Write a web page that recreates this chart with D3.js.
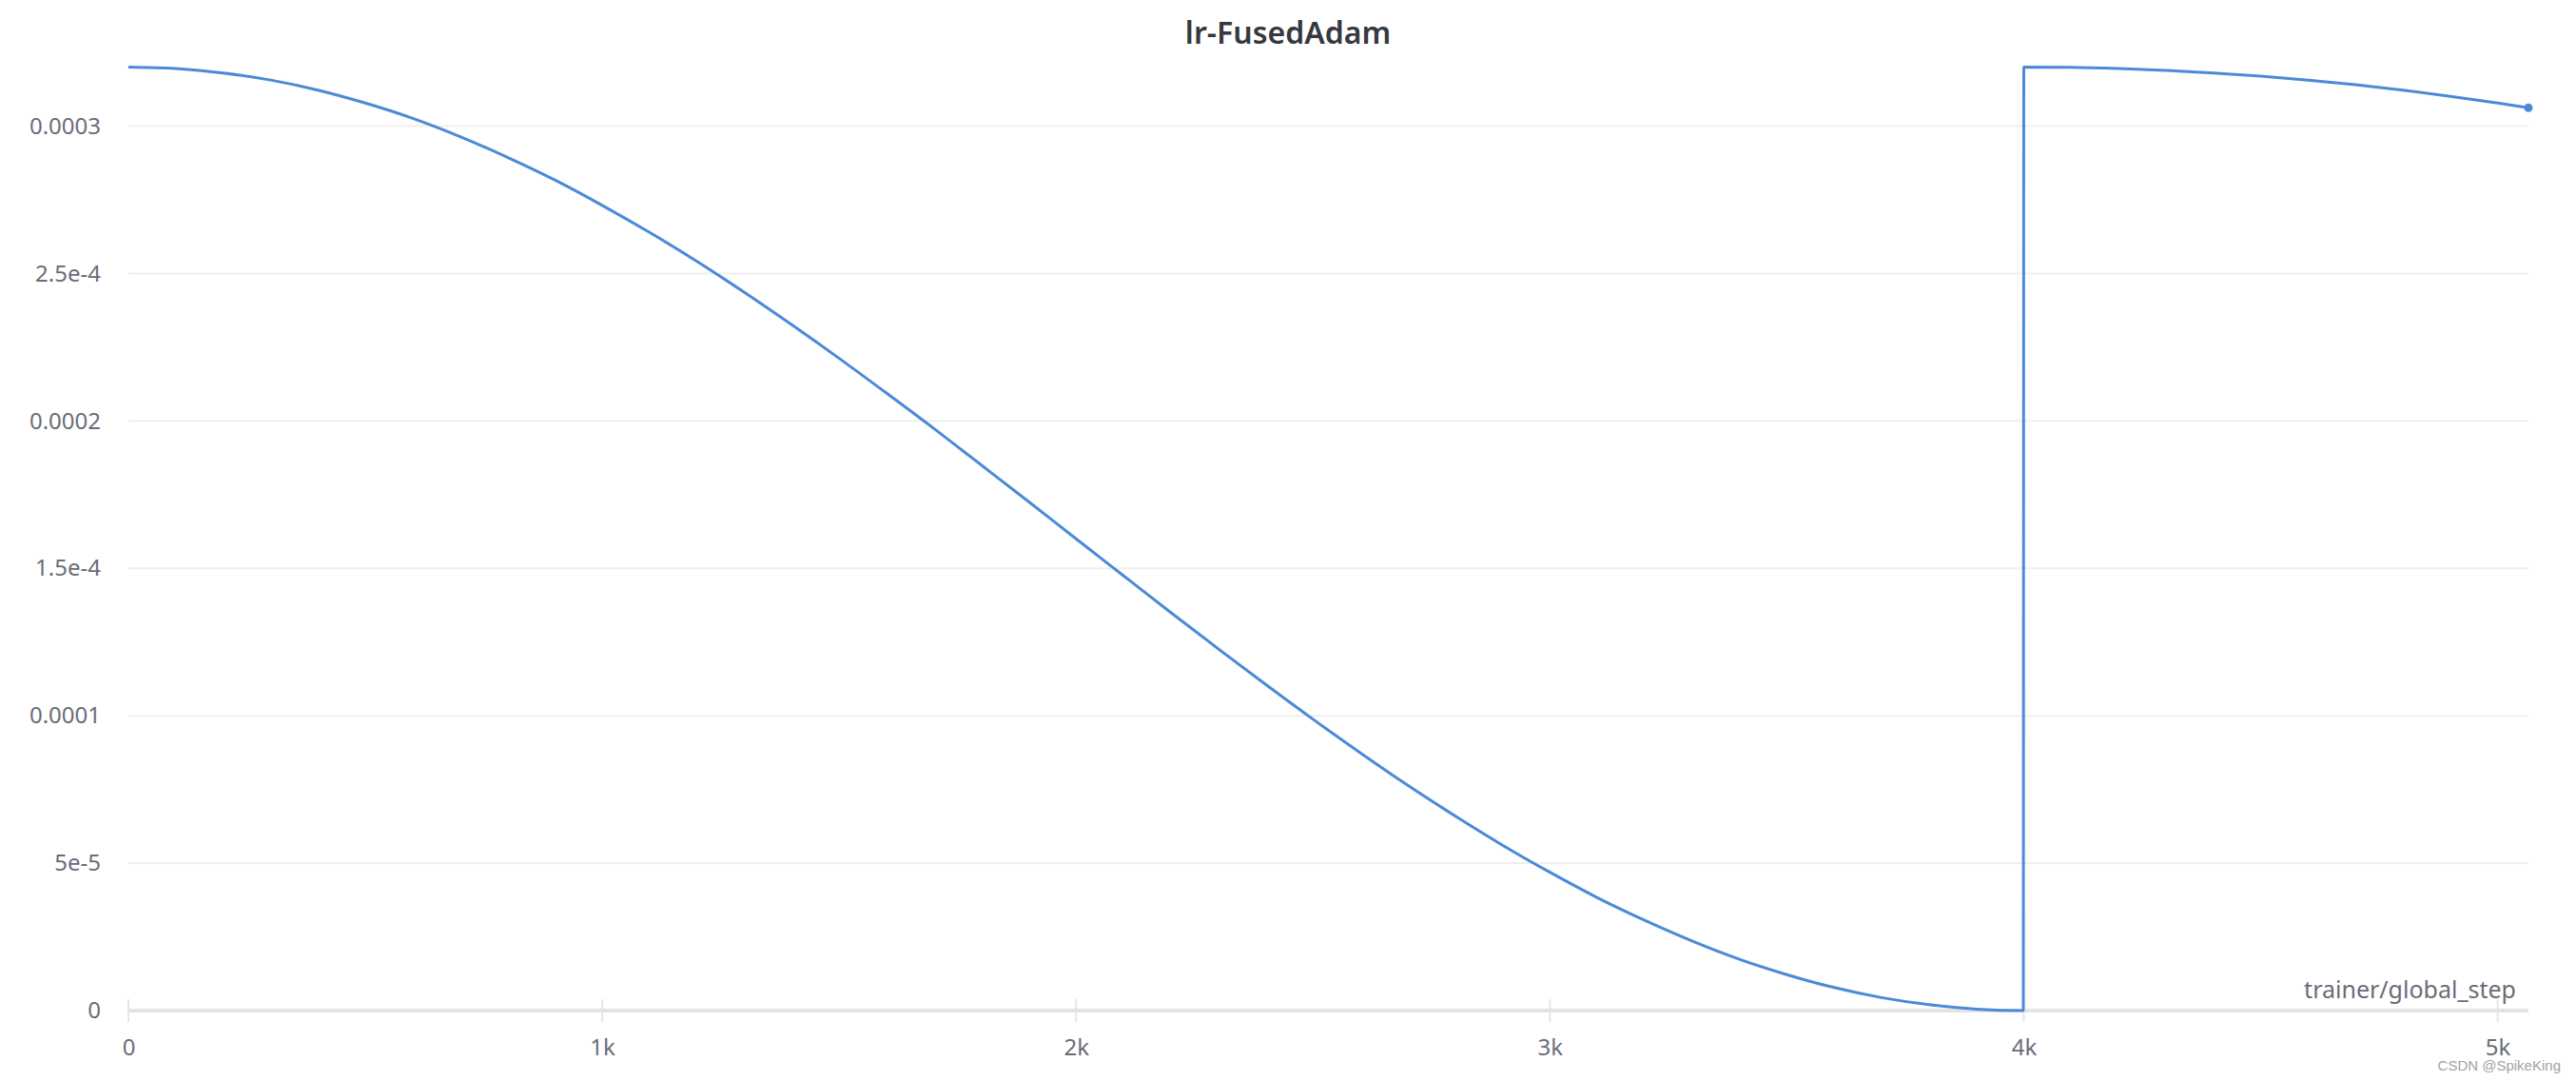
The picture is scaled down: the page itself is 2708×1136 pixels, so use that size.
<!DOCTYPE html>
<html>
<head>
<meta charset="utf-8">
<script src="https://cdn.jsdelivr.net/npm/d3@7"></script>
<style>
  html, body { margin: 0; padding: 0; background: #ffffff; }
  svg { display: block; }
</style>
</head>
<body>
<svg id="chart" width="2708" height="1136"></svg>
<script>
// ---- data ----
const chartTitle = "lr-FusedAdam";
const xAxisLabel = "trainer/global_step";
const watermark = "CSDN @SpikeKing";

const xTickValues = [0, 1000, 2000, 3000, 4000, 5000];
const xTickLabels = ["0", "1k", "2k", "3k", "4k", "5k"];
const yTickValues = [0, 0.00005, 0.0001, 0.00015, 0.0002, 0.00025, 0.0003];
const yTickLabels = ["0", "5e-5", "0.0001", "1.5e-4", "0.0002", "2.5e-4", "0.0003"];

const steps = [
  0, 100, 200, 300, 400, 500, 600, 700, 800, 900,
  1000, 1100, 1200, 1300, 1400, 1500, 1600, 1700, 1800, 1900,
  2000, 2100, 2200, 2300, 2400, 2500, 2600, 2700, 2800, 2900,
  3000, 3100, 3200, 3300, 3400, 3500, 3600, 3700, 3800, 3900,
  3999, 4000, 4100, 4200, 4300, 4400, 4500, 4600, 4700, 4800,
  4900, 5000, 5065
];
const lrValues = [
  0.000320, 0.0003195, 0.0003180, 0.0003156, 0.0003122, 0.0003078, 0.0003026, 0.0002964, 0.0002894, 0.0002817,
  0.0002731, 0.0002639, 0.0002541, 0.0002436, 0.0002326, 0.0002212, 0.0002094, 0.0001974, 0.0001850, 0.0001726,
  0.0001600, 0.0001475, 0.0001350, 0.0001227, 0.0001106, 0.0000988, 0.0000874, 0.0000764, 0.0000660, 0.0000561,
  0.0000469, 0.0000383, 0.0000306, 0.0000236, 0.0000174, 0.0000122, 0.0000078, 0.0000044, 0.0000020, 0.0000005,
  0.0000000, 0.000320, 0.0003199, 0.0003195, 0.0003189, 0.0003180, 0.0003169, 0.0003156, 0.0003140, 0.0003122,
  0.0003101, 0.0003078, 0.0003062
];

// ---- layout ----
const svg = d3.select("#chart");
const plotLeft = 135, plotRight = 2658, plotTop = 70.5, plotBottom = 1062;

const x = d3.scaleLinear().domain([0, 5065]).range([plotLeft, plotRight]);
const y = d3.scaleLinear().domain([0, 0.00032]).range([plotBottom, plotTop]);

const labelColor = "#6b6c78";
const fontFamily = "'Noto Sans', 'Open Sans', sans-serif";

// title
svg.append("text")
  .attr("x", 1354).attr("y", 46)
  .attr("text-anchor", "middle")
  .attr("font-family", fontFamily)
  .attr("font-weight", 600)
  .attr("font-size", 32)
  .attr("fill", "#35383d")
  .text(chartTitle);

// horizontal gridlines
svg.append("g").selectAll("line")
  .data(yTickValues.filter(v => v > 0))
  .join("line")
  .attr("x1", plotLeft).attr("x2", plotRight)
  .attr("y1", d => y(d)).attr("y2", d => y(d))
  .attr("stroke", "#efefef")
  .attr("stroke-width", 2);

// y axis labels
const yAxis = d3.axisLeft(y)
  .tickValues(yTickValues)
  .tickFormat((d, i) => yTickLabels[i])
  .tickSize(0)
  .tickPadding(29);
const gy = svg.append("g").attr("transform", `translate(${plotLeft},0)`).call(yAxis);
gy.select(".domain").remove();
gy.selectAll("text")
  .attr("font-family", fontFamily)
  .attr("font-size", 24)
  .attr("fill", labelColor);

// x axis
const xAxis = d3.axisBottom(x)
  .tickValues(xTickValues)
  .tickFormat((d, i) => xTickLabels[i])
  .tickSize(0)
  .tickPadding(30);
const gx = svg.append("g").attr("transform", `translate(0,${plotBottom})`).call(xAxis);
gx.select(".domain").remove();
gx.selectAll("text")
  .attr("font-family", fontFamily)
  .attr("font-size", 24)
  .attr("fill", labelColor);

// axis baseline
svg.append("line")
  .attr("x1", plotLeft).attr("x2", plotRight)
  .attr("y1", plotBottom).attr("y2", plotBottom)
  .attr("stroke", "#e3e3e5")
  .attr("stroke-width", 4);

// tick marks
svg.append("g").selectAll("line")
  .data(xTickValues)
  .join("line")
  .attr("x1", d => x(d)).attr("x2", d => x(d))
  .attr("y1", plotBottom - 12).attr("y2", plotBottom + 12)
  .attr("stroke", "#e6e6e8")
  .attr("stroke-width", 2);

// x axis title
svg.append("text")
  .attr("x", 2645).attr("y", 1049)
  .attr("text-anchor", "end")
  .attr("font-family", fontFamily)
  .attr("font-size", 25)
  .attr("fill", labelColor)
  .text(xAxisLabel);

// line
const points = steps.map((s, i) => ({ s, v: lrValues[i] }));
const line = d3.line()
  .x(d => x(d.s))
  .y(d => y(d.v))
  .curve(d3.curveMonotoneX);

svg.append("path")
  .datum(points)
  .attr("d", line)
  .attr("fill", "none")
  .attr("stroke", "#4a8ad6")
  .attr("stroke-width", 3)
  .attr("stroke-linejoin", "round");

// last point marker
const last = points[points.length - 1];
svg.append("circle")
  .attr("cx", x(last.s)).attr("cy", y(last.v))
  .attr("r", 4.5)
  .attr("fill", "#4a8ad6");

// watermark
svg.append("text")
  .attr("x", 2692).attr("y", 1125)
  .attr("text-anchor", "end")
  .attr("font-family", "'Liberation Sans', Arial, sans-serif")
  .attr("font-size", 15)
  .attr("fill", "#a3a3a3")
  .text(watermark);
</script>
</body>
</html>
